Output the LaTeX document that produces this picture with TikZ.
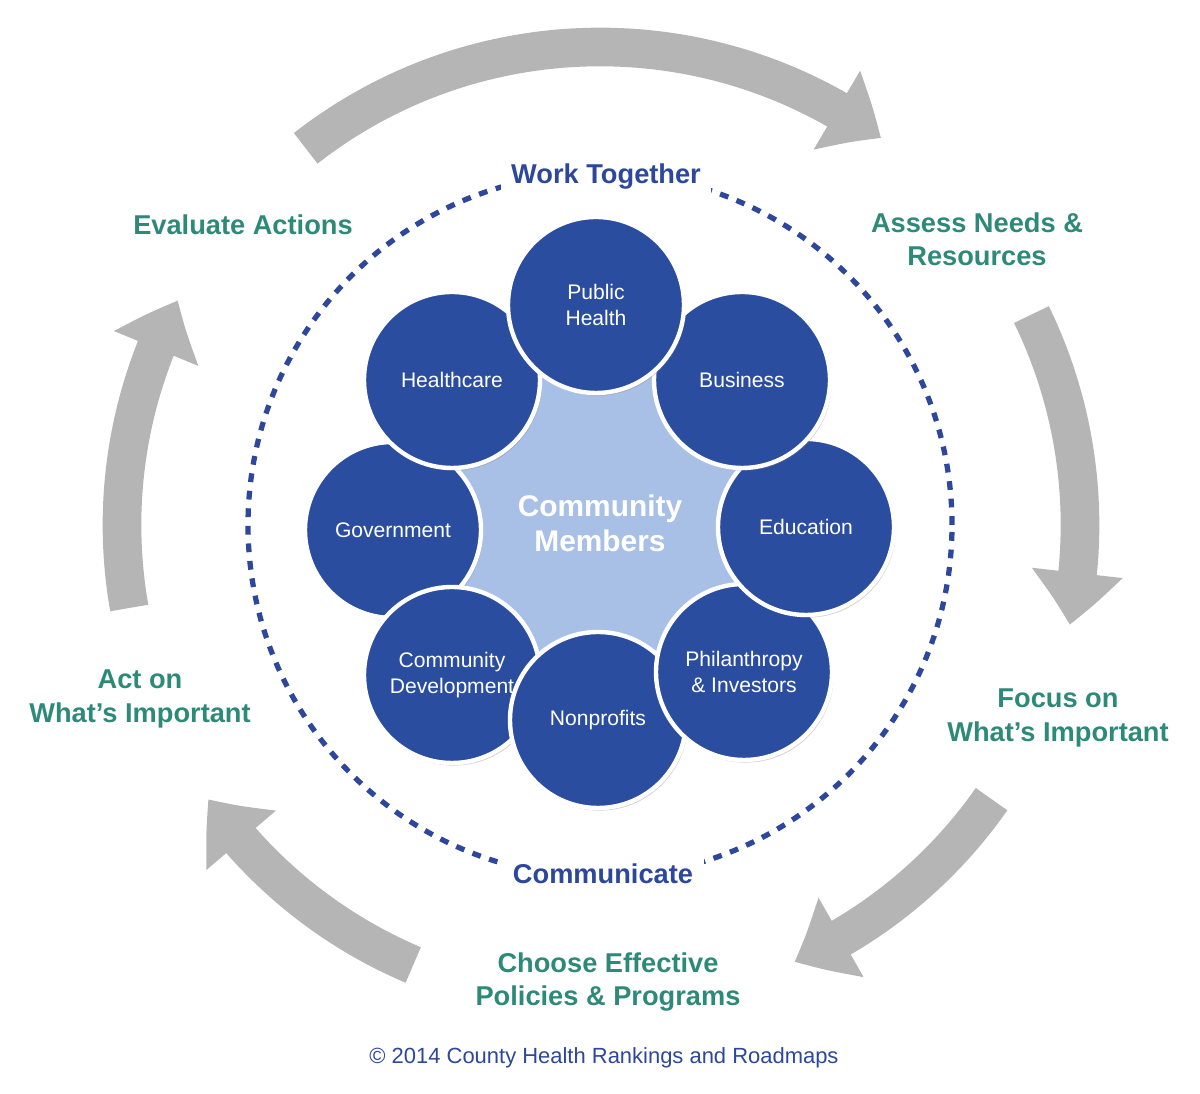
\documentclass[tikz,border=0pt]{standalone}
\usepackage{fontspec}
\setmainfont{Liberation Sans}
\usetikzlibrary{arrows.meta,bending,shadows}
\definecolor{cblue}{HTML}{2A4D9F}
\definecolor{lblue}{HTML}{A8C0E6}
\definecolor{tgreen}{HTML}{2E8A78}
\definecolor{tblue}{HTML}{2C479B}
\definecolor{agray}{HTML}{B5B5B5}
\tikzset{
 member/.style={circle,minimum size=176*0.02cm,fill=cblue,draw=white,line width=2.5pt,text=white,font=\fontsize{12}{15}\selectfont,align=center,inner sep=1pt,drop shadow={opacity=0.35,shadow xshift=1pt,shadow yshift=-1.5pt}},
 glabel/.style={text=tgreen,font=\bfseries\fontsize{15.5}{19}\selectfont,align=center},
 blabel/.style={text=tblue,fill=white,font=\bfseries\fontsize{15.5}{19}\selectfont,inner sep=6pt},
 garrow/.style={agray,line width=22pt,-{Triangle[width=50pt,length=30pt,bend]}}
}
\begin{document}
\begin{tikzpicture}[x=0.02cm,y=0.02cm]
\useasboundingbox (0,0) rectangle (1200,1094);
\coordinate (c) at (600,569);
% gray cycle arrows
\draw[garrow] (c)+(128:478) arc[start angle=128,end angle=54,radius=478];
\draw[garrow] (c)+(26:480) arc[start angle=26,end angle=-12,radius=480];
\draw[garrow] (c)+(-35:478) arc[start angle=-35,end angle=-66,radius=478];
\draw[garrow] (c)+(-113:478) arc[start angle=-113,end angle=-145,radius=478];
\draw[garrow] (c)+(-170:478) arc[start angle=-170,end angle=-208,radius=478];
% dashed circle
\draw[tblue,line width=3pt,dash pattern=on 5pt off 5pt] (c) circle[radius=352];
\node[blabel] (wt) at (606,917) {Work Together};
\node[blabel] (cm) at (603,220) {Communicate};
% center star
\fill[lblue] (596,789)--(742,714)--(806,567)--(744,422)--(598,374)--(452,419)--(393,564)--(452,714)--cycle;
\node[text=white,font=\bfseries\fontsize{17}{20}\selectfont,align=center] (cmem) at (600,571) {Community\\Members};
% member circles
\node[member] (gov) at (393,564) {Government};
\node[member] (cd) at (452,419) {Community\\Development};
\node[member] (np) at (598,374) {Nonprofits};
\node[member] (ph) at (744,422) {Philanthropy\\\& Investors};
\node[member] (ed) at (806,567) {Education};
\node[member] (bu) at (742,714) {Business};
\node[member] (hc) at (452,714) {Healthcare};
\node[member] (pu) at (596,789) {Public\\Health};
% stage labels
\node[glabel] (ev) at (243,869) {Evaluate Actions};
\node[glabel] (as) at (977,855) {Assess Needs \&\\Resources};
\node[glabel] (fo) at (1058,376) {Focus on\\What’s Important};
\node[glabel] (ch) at (608,112) {Choose Effective\\Policies \& Programs};
\node[glabel] (ac) at (140,395) {Act on\\What’s Important};
\node[text=tblue,font=\fontsize{12.5}{15}\selectfont] (cp) at (604,36) {© 2014 County Health Rankings and Roadmaps};
\end{tikzpicture}
\end{document}
